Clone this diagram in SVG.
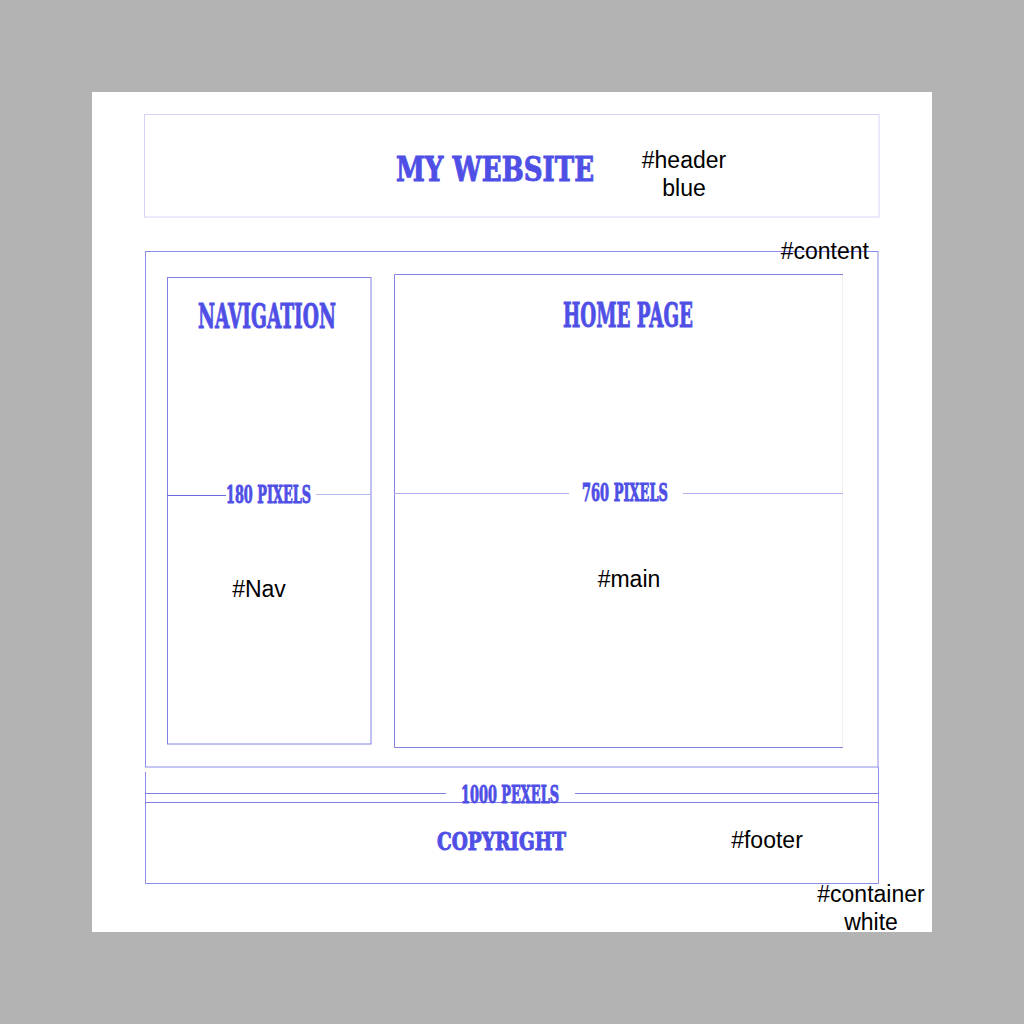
<svg xmlns="http://www.w3.org/2000/svg" width="1024" height="1024" viewBox="0 0 1024 1024">
<style>
.st{font-family:"DejaVu Serif Condensed","DejaVu Serif","Liberation Serif",serif;font-weight:bold;fill:#4f4fe6;stroke:#4f4fe6;stroke-width:0.9;stroke-linejoin:miter}
.lb{font-family:"Liberation Sans",Arial,sans-serif;font-size:23px;fill:#000}
.bx{fill:none;stroke-width:1}
</style>
<rect x="0" y="0" width="1024" height="1024" fill="#b3b3b3"/>
<g id="container">
<rect x="92" y="92" width="840" height="840" fill="#ffffff"/>
<text class="lb" x="871" y="902" text-anchor="middle">#container</text>
<text class="lb" x="871" y="930" text-anchor="middle">white</text>
</g>
<g id="header">
<rect class="bx" x="144.5" y="114.5" width="734.5" height="102.5" stroke="#d4d4f6"/>
<text class="st" x="396" y="181" font-size="34" textLength="198" lengthAdjust="spacingAndGlyphs">MY WEBSITE</text>
<text class="lb" x="684" y="168" text-anchor="middle">#header</text>
<text class="lb" x="684" y="196" text-anchor="middle">blue</text>
</g>
<g id="content">
<rect class="bx" x="145.5" y="251.5" width="732.5" height="515.5" stroke="#8c8cea"/>
<text class="lb" x="869" y="259" text-anchor="end">#content</text>
</g>
<g id="nav">
<rect class="bx" x="167.5" y="277.5" width="203.5" height="466.5" stroke="#8080e4"/>
<text class="st" x="198" y="328" font-size="33" textLength="138" lengthAdjust="spacingAndGlyphs">NAVIGATION</text>
<text class="lb" x="259" y="597" text-anchor="middle">#Nav</text>
</g>
<g id="main">
<path class="bx" d="M843 274.5H394.5V747.5H843" stroke="#8282e6"/>
<path class="bx" d="M842.5 275V747" stroke="#f0f0f4"/>
<text class="st" x="563" y="327" font-size="34" textLength="130" lengthAdjust="spacingAndGlyphs">HOME PAGE</text>
<text class="lb" x="629" y="587" text-anchor="middle">#main</text>
</g>
<g id="footer">
<path class="bx" d="M145.5 772V883.5H878.5V802" stroke="#8c8cea"/>
<text class="st" x="437" y="850" font-size="25" textLength="129" lengthAdjust="spacingAndGlyphs">COPYRIGHT</text>
<text class="lb" x="767" y="848" text-anchor="middle">#footer</text>
</g>
<g id="connectors">
<line x1="167" y1="495.5" x2="226" y2="495.5" stroke="#6a6ae0"/>
<line x1="316" y1="494.5" x2="371" y2="494.5" stroke="#b8b8f0"/>
<line x1="394" y1="493.5" x2="569" y2="493.5" stroke="#b0b0ee"/>
<line x1="683" y1="493.5" x2="843" y2="493.5" stroke="#b0b0ee"/>
<line x1="145" y1="793.5" x2="446" y2="793.5" stroke="#8080e4"/>
<line x1="575" y1="793.5" x2="878" y2="793.5" stroke="#8080e4"/>
<line x1="145" y1="802.5" x2="878" y2="802.5" stroke="#8080e4"/>
<line x1="878.5" y1="767" x2="878.5" y2="802" stroke="#8c8cea"/>
<text class="st" x="226" y="503" font-size="25" textLength="85" lengthAdjust="spacingAndGlyphs">180 PIXELS</text>
<text class="st" x="582" y="501" font-size="25" textLength="86" lengthAdjust="spacingAndGlyphs">760 PIXELS</text>
<text class="st" x="461" y="803" font-size="24" textLength="98" lengthAdjust="spacingAndGlyphs">1000 PEXELS</text>
</g>
</svg>
